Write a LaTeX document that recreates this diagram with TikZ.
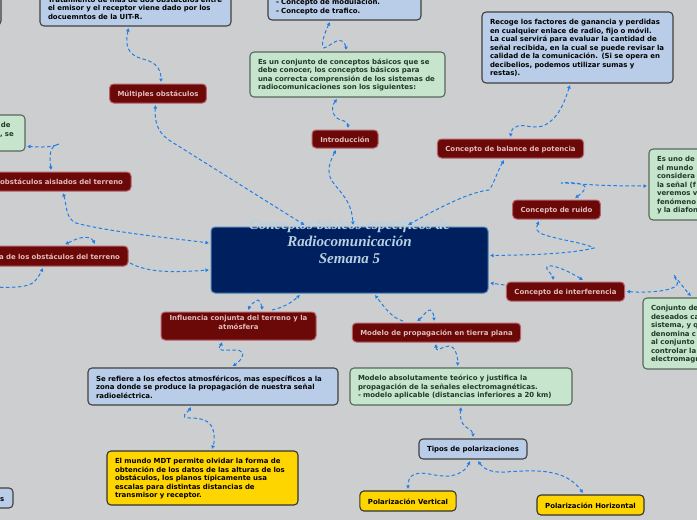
\documentclass[tikz,border=0pt]{standalone}
\usepackage{fontspec}
\setmainfont{DejaVu Sans}
\newfontfamily\titlefont{Liberation Serif}
\usetikzlibrary{arrows.meta}
\definecolor{pagegray}{HTML}{CDCED0}
\definecolor{linkblue}{HTML}{1F7FE8}
\definecolor{mainfill}{HTML}{001F5F}
\definecolor{mainedge}{HTML}{4A85B5}
\definecolor{maintext}{HTML}{B9D0E0}
\definecolor{topicfill}{HTML}{6B0808}
\definecolor{topicedge}{HTML}{B9606A}
\definecolor{topictext}{HTML}{E3BDBD}
\definecolor{bluefill}{HTML}{B9CDE8}
\definecolor{greenfill}{HTML}{C6E5CC}
\definecolor{greenedge}{HTML}{56695C}
\definecolor{greentext}{HTML}{1F3A29}
\definecolor{yellowfill}{HTML}{FFD500}
\begin{document}
\begin{tikzpicture}[
  x = 1pt, y = -1pt,
  every node/.style = {outer sep = 2pt, rounded corners = 4pt, inner ysep = 0pt, inner xsep = 8pt,
    font = \bfseries\fontsize{6.95}{8.5}\selectfont, text height = 6.6pt},
  mainbox/.style = {fill = mainfill, draw = mainedge, line width = 1pt, text = maintext, align = center,
    font = \titlefont\bfseries\itshape\fontsize{15}{17}\selectfont},
  topic/.style = {fill = topicfill, draw = topicedge, line width = 1pt, text = topictext, align = center},
  bluebox/.style = {fill = bluefill, draw = black!75, line width = 1.1pt, text = black, align = left},
  greenbox/.style = {fill = greenfill, draw = greenedge, line width = 1.1pt, text = greentext, align = left},
  yellowbox/.style = {fill = yellowfill, draw = black!80, line width = 1.1pt, text = black, align = left},
  link/.style = {draw = linkblue, line width = 1pt, dash pattern = on 3.5pt off 2.5pt,
    {Latex[length = 3.5pt, width = 4pt]}-{Latex[length = 3.5pt, width = 4pt]}},
  endtip/.style = {draw = linkblue, line width = 1pt, dash pattern = on 3.5pt off 2.5pt,
    -{Latex[length = 3.5pt, width = 4pt]}},
  ]
  \path[use as bounding box] (0,0) rectangle (697,520);
  \clip (0,0) rectangle (697,520);
  \fill[pagegray] (0,0) rectangle (697,520);

  \node[mainbox, minimum width = 277pt, minimum height = 66pt] (center) at (349.5,260)
    {Conceptos básicos específicos de\\Radiocomunicación\\Semana 5};

  \node[topic, minimum width = 96pt, minimum height = 19pt] (multiple) at (158,93.5) {Múltiples obstáculos};
  \node[topic, minimum width = 66pt, minimum height = 18pt] (intro) at (345,139) {Introducción};
  \node[topic, minimum width = 145pt, minimum height = 19pt] (balance) at (510.5,148.5) {Concepto de balance de potencia};
  \node[topic, minimum width = 87pt, minimum height = 19pt] (noise) at (556.5,209.5) {Concepto de ruido};
  \node[topic, minimum width = 117pt, minimum height = 19pt] (interf) at (565.5,291.5) {Concepto de interferencia};
  \node[topic, minimum width = 155pt, minimum height = 28pt] (joint) at (238.5,326)
    {Influencia conjunta del terreno y la\\atmósfera};
  \node[topic, minimum width = 167pt, minimum height = 19pt] (flat) at (436.5,332.5) {Modelo de propagación en tierra plana};
  \node[topic, text width = 134pt, align = right, minimum height = 19pt] (isolated) at (56,181.5)
    {obstáculos aislados del terreno};
  \node[topic, text width = 134pt, align = right, minimum height = 20pt] (surface) at (53,256)
    {a de los obstáculos del terreno};

  \node[bluebox, text width = 175pt, minimum height = 37pt] (obstnote) at (135.5,7.5)
    {Tratamiento de más de dos obstáculos entre\\el emisor y el receptor viene dado por los\\docuemntos de la UIT-R.};
  \node[bluebox, text width = 137pt, minimum height = 27pt] (topnote) at (344.5,6.5)
    {- Concepto de modulación.\\- Concepto de trafico.};
  \node[bluebox, text width = 175pt, minimum height = 71pt] (gainnote) at (577.5,47.5)
    {Recoge los factores de ganancia y perdidas\\en cualquier enlace de radio, fijo o móvil.\\La cual servirá para evaluar la cantidad de\\señal recibida, en la cual se puede revisar la\\calidad de la comunicación. (Si se opera en\\decibelios, podemos utilizar sumas y\\restas).};
  \node[bluebox, text width = 234pt, minimum height = 37pt] (atmnote) at (213,386.5)
    {Se refiere a los efectos atmosféricos, mas específicos a la\\zona donde se produce la propagación de nuestra señal\\radioeléctrica.};
  \node[bluebox, minimum width = 108pt, minimum height = 20pt, align = center] (polar) at (473,449) {Tipos de polarizaciones};
  \node[bluebox, text width = 20pt, minimum height = 20pt] (cornerbox) at (-5,498) {\hspace{15pt}s};
  \node[bluebox, text width = 20pt, minimum height = 45pt] (edgebox) at (-17,2.5) {};

  \node[greenbox, text width = 179pt, minimum height = 45pt] (intronote) at (347.5,74.5)
    {Es un conjunto de conceptos básicos que se\\debe conocer, los conceptos básicos para\\una correcta comprensión de los sistemas de\\radiocomunicaciones son los siguientes:};
  \node[greenbox, text width = 24pt, minimum height = 36pt] (leftnote) at (5,133)
    {\hspace{8pt}de\\\hspace{7pt}, se\\\mbox{}};
  \node[greenbox, text width = 120pt, minimum height = 71pt] (noisenote) at (717,184.5)
    {Es uno de\\el mundo\\considera\\la señal (f\\veremos v\\fenómeno\\y la diafon};
  \node[greenbox, text width = 120pt, minimum height = 71pt] (interfnote) at (711,333.5)
    {Conjunto de\\deseados ca\\sistema, y q\\denomina c\\al conjunto\\controlar la\\electromagn};
  \node[greenbox, text width = 206pt, minimum height = 37pt] (flatnote) at (461,386.5)
    {Modelo absolutamente teórico y justifica la\\propagación de la señales electromagnéticas.\\- modelo aplicable (distancias inferiores a 20 km)};

  \node[yellowbox, text width = 175pt, minimum height = 54pt] (mdtnote) at (202.5,478)
    {El mundo MDT permite olvidar la forma de\\obtención de los datos de las alturas de los\\obstáculos, los planos típicamente usa\\escalas para distintas distancias de\\transmisor y receptor.};
  \node[yellowbox, minimum width = 96pt, minimum height = 20pt, align = center] (vertical) at (408,501) {Polarización Vertical};
  \node[yellowbox, minimum width = 107pt, minimum height = 20pt, align = center] (horizontal) at (590.5,505) {Polarización Horizontal};

  \coordinate (offleft) at (-6,287);

  \draw[link] ([xshift = -7pt]obstnote.south) .. controls (125,45) and (127,55) .. (143,59) .. controls (155,62) and (161,68) .. ([xshift = 3pt]multiple.north);
  \draw[link] ([xshift = -2.5pt]multiple.south) .. controls (154,125) and (160,135) .. (172,142) -- ([xshift = -45pt]center.north);
  \draw[link] ([xshift = 7pt]isolated.south) .. controls (67,205) and (65,218) .. (76,223) .. controls (110,232) and (170,238) .. ([yshift = 17pt]center.west);
  \draw[link] ([xshift = -5pt]isolated.north) .. controls (50,158) and (48,146) .. (59,144) .. controls (50,148) and (40,147) .. ([yshift = -13.5pt]leftnote.east);
  \draw[endtip] ([yshift = -7pt]surface.east) .. controls (150,274) and (180,272) .. ([yshift = -10pt]center.west);
  \draw[link] ([xshift = -35pt]surface.north east) .. controls (92,238) and (86,236) .. (80,238) .. controls (73,240) and (68,243) .. ([xshift = -65pt]surface.north east);
  \draw[endtip] (offleft) .. controls (15,288) and (28,287) .. (34,282) .. controls (38,278) and (40,274) .. ([xshift = -87pt]surface.south east);
  \draw[link] ([xshift = -10.5pt]intronote.south) .. controls (330,108) and (333,118) .. (341,120) .. controls (346,121) and (348,124) .. ([xshift = 3pt]intro.north);
  \draw[link] ([xshift = -9pt]intro.south) .. controls (328,165) and (326,175) .. (335,185) .. controls (345,197) and (352,205) .. ([xshift = 3.5pt]center.north);
  \draw[link] ([xshift = -14.5pt]topnote.south) .. controls (325,32) and (320,46) .. (324,48) .. controls (332,45) and (337,38) .. (342,41) .. controls (345,43) and (346,47) .. ([xshift = -1.5pt]intronote.north);
  \draw[link] ([xshift = -7.5pt]gainnote.south) .. controls (565,100) and (560,117) .. (545,125) .. controls (535,130) and (525,124) .. (518,126) .. controls (512,128) and (511,131) .. (balance.north);
  \draw[link] ([xshift = -6.5pt]balance.south) .. controls (498,170) and (492,188) .. (489,190) .. controls (470,192) and (440,207) .. ([xshift = 58.5pt]center.north);
  \draw[link] ([xshift = -17.5pt]noise.south) .. controls (536,228) and (535,232) .. (545,235) .. controls (560,240) and (585,243) .. (594,248) .. controls (570,254) and (530,255) .. ([yshift = 4.5pt]center.east);
  \draw[link] ([xshift = 18.5pt]noise.north) .. controls (581,194) and (586,189) .. (585,187) .. controls (584,183) and (570,182) .. (561,183) .. controls (575,183) and (590,186) .. ([yshift = -1.5pt]noisenote.west);
  \draw[endtip] ([yshift = 6.5pt]interf.west) -- ([yshift = -23pt]center.east);
  \draw[link] ([xshift = 17.5pt]interf.north) .. controls (570,272) and (555,265) .. (549,266) .. controls (542,267) and (553,275) .. ([xshift = -12.5pt]interf.north);
  \draw[link] (interf.east) .. controls (650,293) and (672,291) .. (677,285) .. controls (680,282) and (672,276) .. (674,275) .. controls (680,283) and (688,293) .. ([xshift = 50pt]interfnote.north west);
  \draw[endtip] ([xshift = 33.5pt]joint.north) .. controls (285,307) and (292,302) .. ([xshift = -49.5pt]center.south);
  \draw[link] ([xshift = 23.5pt]joint.north) .. controls (262,306) and (259,300) .. (258,300) .. controls (254,301) and (250,306) .. ([xshift = 9.5pt]joint.north);
  \draw[link] ([xshift = -16.5pt]joint.south) .. controls (221,345) and (216,350) .. (222,350) .. controls (230,351) and (240,348) .. (243,353) .. controls (243,358) and (238,363) .. ([xshift = 19.5pt]atmnote.north);
  \draw[link] ([xshift = -22pt]atmnote.south) .. controls (188,412) and (178,418) .. (190,418) .. controls (205,418) and (213,422) .. (214,435) .. controls (215,442) and (213,446) .. ([xshift = 9.5pt]mdtnote.north);
  \draw[endtip] ([xshift = -33.5pt]flat.north) .. controls (392,318) and (385,308) .. ([xshift = 25.5pt]center.south);
  \draw[link] ([xshift = -19.5pt]flat.north) .. controls (423,317) and (426,310) .. (430,310) .. controls (433,311) and (434,316) .. ([xshift = -2.5pt]flat.north);
  \draw[link] ([xshift = -.5pt]flat.south) .. controls (436,348) and (436,351) .. (440,349) .. controls (447,345) and (452,345) .. (455,350) .. controls (457,355) and (458,360) .. ([xshift = -3.5pt]flatnote.north);
  \draw[link] (flatnote.south) .. controls (460,415) and (460,423) .. (466,427) .. controls (471,430) and (473,432) .. (polar.north);
  \draw[link] ([xshift = -3pt]polar.south) .. controls (467,468) and (462,474) .. (450,476) .. controls (435,477) and (425,471) .. (415,474) .. controls (409,476) and (408,482) .. (vertical.north);
  \draw[link] ([xshift = 5pt]polar.south) .. controls (483,468) and (490,473) .. (505,472) .. controls (535,470) and (565,468) .. ([xshift = -7.5pt]horizontal.north);
\end{tikzpicture}
\end{document}
